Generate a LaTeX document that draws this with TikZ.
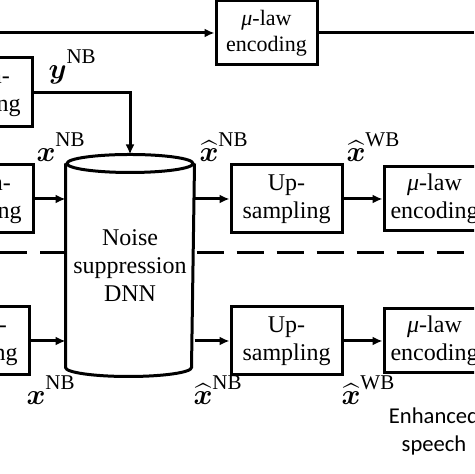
\documentclass[tikz,border=0pt]{standalone}
\usepackage{fontspec}
\usepackage{amsmath,bm}
\setmainfont{Liberation Serif}
\newfontfamily\calibri{Carlito}
\usetikzlibrary{arrows.meta,calc}

% bold signal name with a band superscript
\newcommand{\sig}[2]{{\fontsize{14}{14}\selectfont$#1$}\raisebox{7.5pt}{\fontsize{10.5}{10.5}\selectfont #2}}

\begin{document}
\begin{tikzpicture}[
x=0.5pt, y=0.5pt,
line width=1.5pt,
>={Latex[length=5pt,width=4.5pt]},
mybox/.style={
    draw,
    rectangle,
    minimum width=55.5pt,
    minimum height=34pt,
    align=center,
    inner sep=0pt,
    font=\fontsize{12}{14}\selectfont},
mulaw/.style={mybox, minimum width=50.5pt, minimum height=32pt},
lbl/.style={inner sep=0pt, anchor=base west}
]
\useasboundingbox (0,0) rectangle (474,474);
\clip (0,0) rectangle (474,474);

% top branch
\coordinate (in) at (0,441);
\coordinate (out) at (474,441);
\node (enc0) at (266.5,441) [mulaw, font=\fontsize{11}{13}\selectfont] {{\itshape μ}-law\\encoding};
\draw[->] (in) -- (enc0);
\draw (enc0) -- (out);

\node (ds0) at (-23.5,381.5) [mybox, minimum height=34.5pt] {Down-\\sampling};
\node (ds1) at (-22.5,275) [mybox] {Down-\\sampling};
\node (ds2) at (-26.5,133) [mybox] {Down-\\sampling};

% the DNN drawn as a cylinder round its node
\node (dnn) at (130,208.5) [minimum width=63pt, minimum height=100.5pt, inner sep=0pt, align=center,
    font=\fontsize{12}{14}\selectfont] {Noise\\suppression\\DNN};
\coordinate (dnntop) at ($(dnn.north)+(0,9)$);
\draw (dnn.north west) -- (dnn.south west) arc[start angle=180, end angle=360, x radius=63, y radius=9]
    -- (dnn.north east);
\draw (dnn.north) ellipse[x radius=63, y radius=9];

\node (up1) at (286.5,275) [mybox] {Up-\\sampling};
\node (enc1) at (434.5,275) [mulaw] {{\itshape μ}-law\\encoding};
\node (up2) at (286.5,133) [mybox] {Up-\\sampling};
\node (enc2) at (434.5,133) [mulaw] {{\itshape μ}-law\\encoding};

\draw[->] (ds0.east) -| (dnntop);
\draw[->] (ds1.east) -- (ds1.east -| dnn.west);
\draw[->] (ds1.east -| dnn.east) -- (up1.west);
\draw[->] (up1) -- (enc1);
\draw[->] (ds2.east) -- (ds2.east -| dnn.west);
\draw[->] (ds2.east -| dnn.east) -- (up2.west);
\draw[->] (up2) -- (enc2);

% split between the two parts
\coordinate (dl) at (0,221);
\coordinate (dr) at (474,221);
\draw[dash pattern=on 13.5pt off 6.5pt] (dl) -- (dl -| dnn.west);
\draw[dash pattern=on 13.5pt off 6.5pt, dash phase=-1pt] (dl -| dnn.east) -- (dr);

\node (y0) at (47,395) [lbl] {\sig{\bm{y}}{NB}};
\node (x1) at (35,312) [lbl] {\sig{\bm{x}}{NB}};
\node (xh1) at (198,312) [lbl] {\sig{\widehat{\bm{x}}}{NB}};
\node (xw1) at (345,312) [lbl] {\sig{\widehat{\bm{x}}}{WB}};
\node (x2) at (25,69) [lbl] {\sig{\bm{x}}{NB}};
\node (xh2) at (192,69) [lbl] {\sig{\widehat{\bm{x}}}{NB}};
\node (xw2) at (340,69) [lbl] {\sig{\widehat{\bm{x}}}{WB}};

\node (enh) at (434,43) [align=center, inner sep=0pt, font=\calibri\fontsize{11.3}{14}\selectfont] {Enhanced\\speech};

\end{tikzpicture}
\end{document}
